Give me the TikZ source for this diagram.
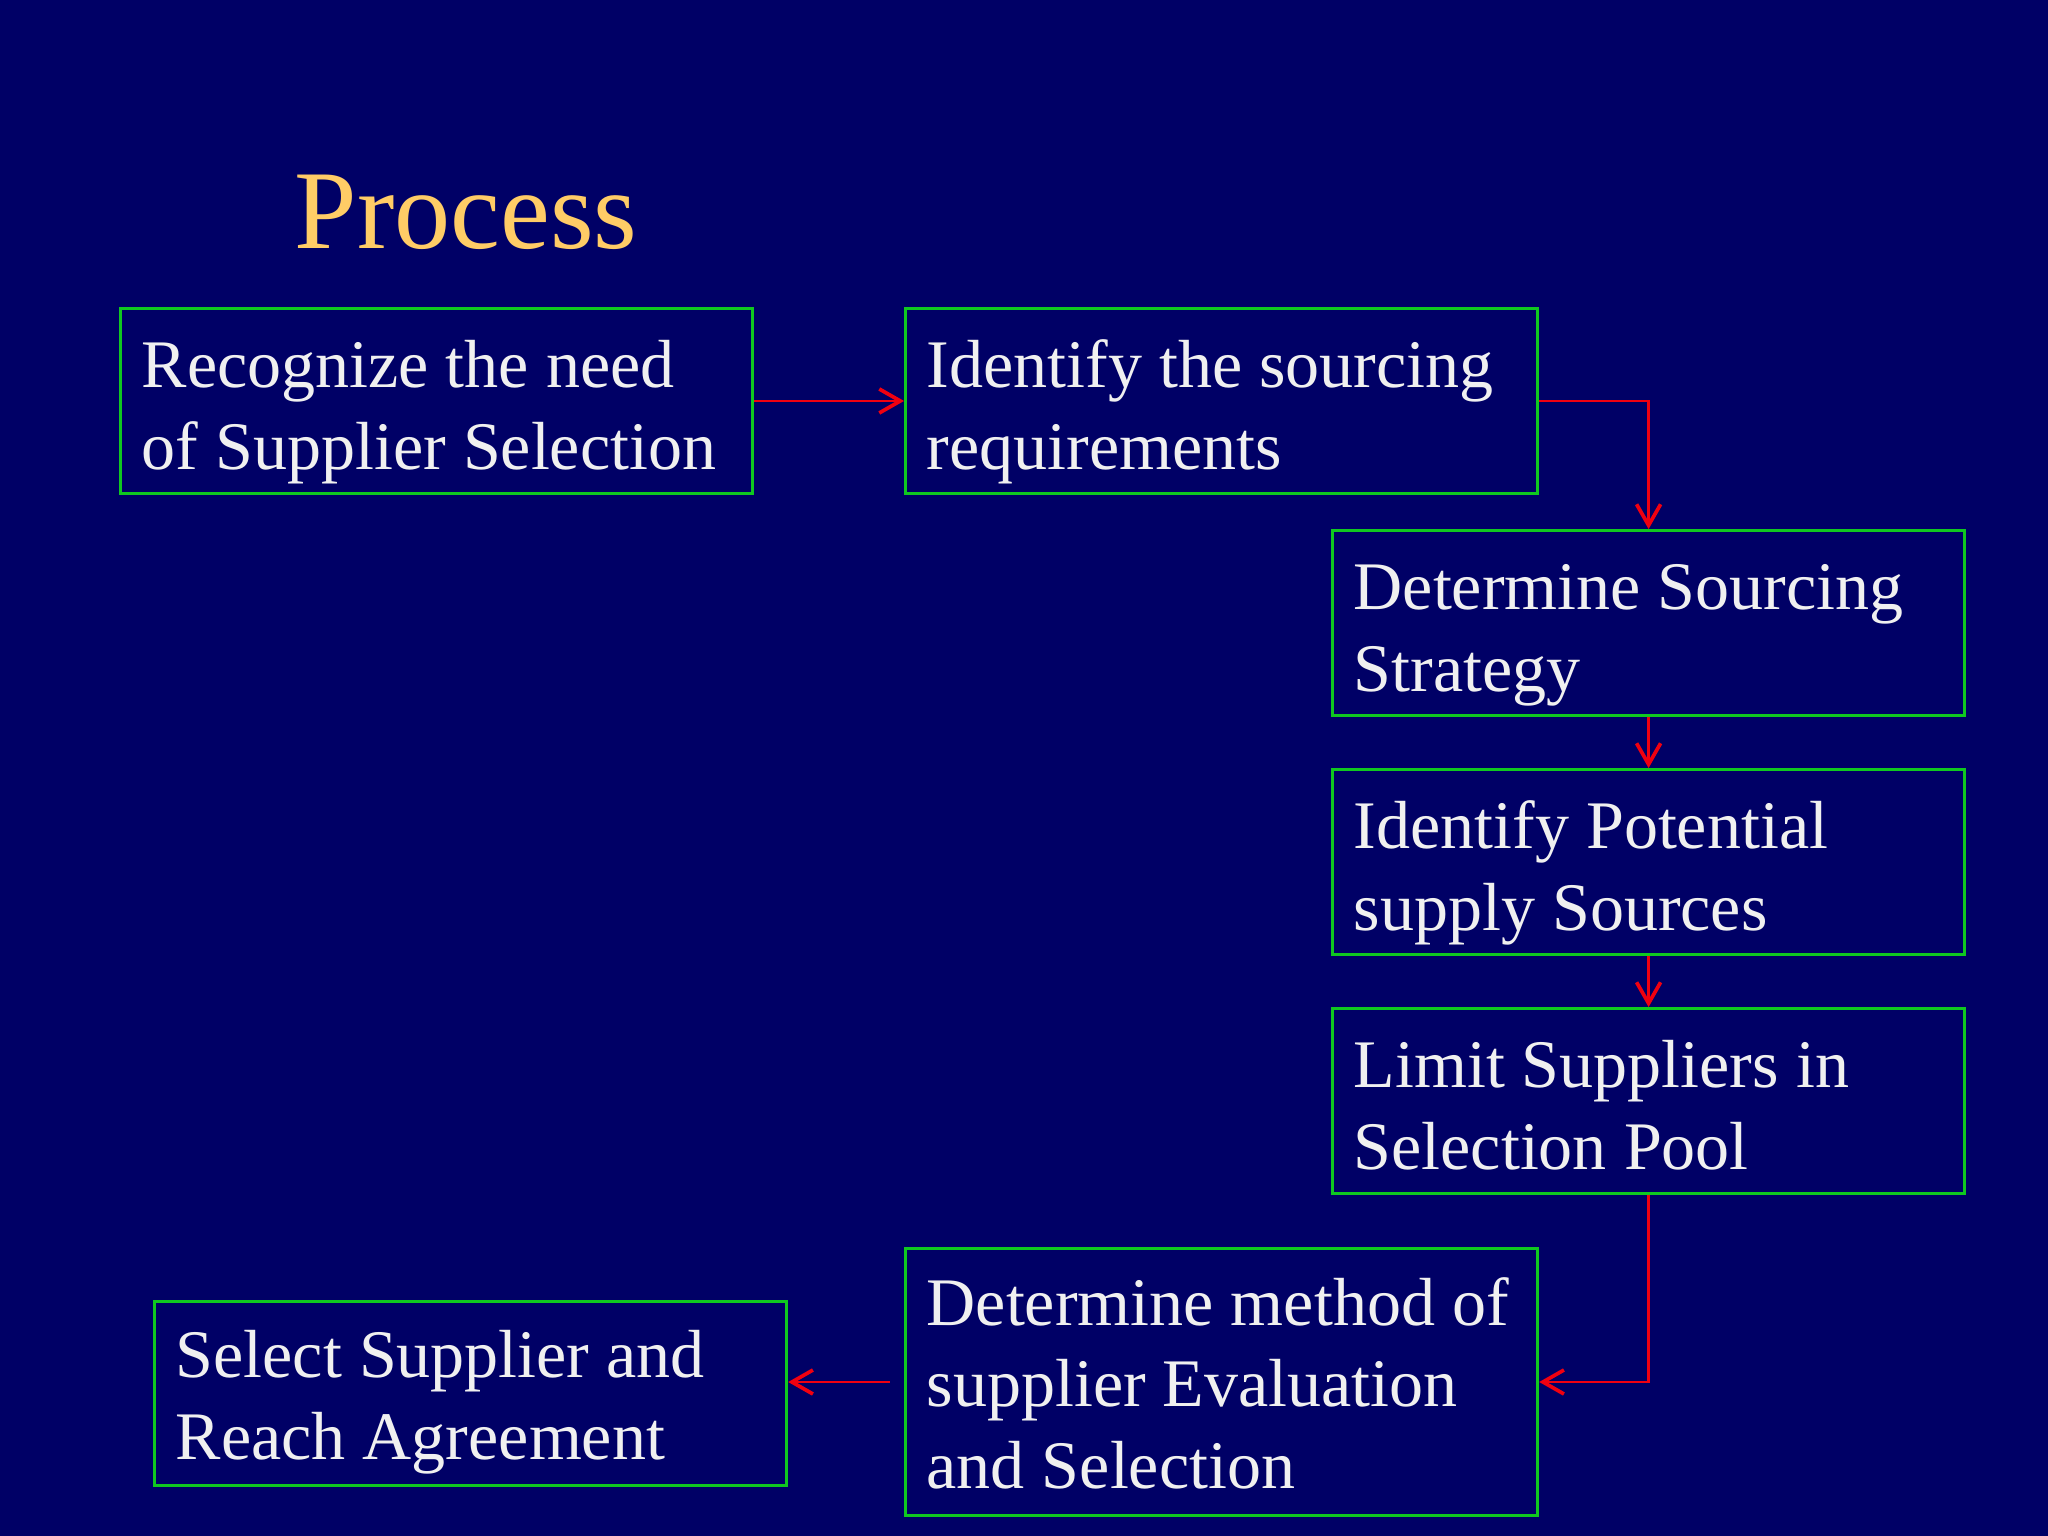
\documentclass[tikz,border=0pt]{standalone}
\usepackage{fontspec}
\setmainfont{Liberation Serif}
\usetikzlibrary{arrows.meta,calc}
\definecolor{bg}{HTML}{000066}
\definecolor{boxgreen}{HTML}{10C820}
\definecolor{arrowred}{HTML}{F00010}
\definecolor{txtwhite}{HTML}{F0F0F0}
\definecolor{titleorange}{HTML}{FFCC66}
\begin{document}
\begin{tikzpicture}[x=0.01cm,y=-0.01cm,
  box/.style={draw=boxgreen, line width=0.8pt, minimum width=6.32cm, minimum height=1.85cm, inner sep=0pt, anchor=north west},
  txt/.style={text=txtwhite, font=\fontsize{19.35}{23.05}\selectfont, align=left, anchor=base west, inner sep=0pt},
  conn/.style={draw=arrowred, line width=0.75pt, -{Straight Barb[length=0.21cm, width=0.24cm, line width=1.05pt]}},
  titletxt/.style={text=titleorange, font=\fontsize{31.9}{38}\selectfont, anchor=base, inner sep=0pt}]
\fill[bg] (0,0) rectangle (2048,1536);
\useasboundingbox (0,0) rectangle (2048,1536);
\node[titletxt] (title) at (466,248) {Process};
\node[box] (b1) at (119,307) {};
\node[box] (b2) at (904,307) {};
\node[box] (b3) at (1331,529) {};
\node[box] (b4) at (1331,768) {};
\node[box] (b5) at (1331,1007) {};
\node[box, minimum height=2.67cm] (b6) at (904,1247) {};
\node[box, minimum height=1.84cm] (b7) at (153,1300) {};
\node[txt] (t1) at ($(b1.north west)+(22,162)$) {Recognize the need\\of Supplier Selection};
\node[txt] (t2) at ($(b2.north west)+(22,162)$) {Identify the sourcing\\requirements};
\node[txt] (t3) at ($(b3.north west)+(22,162)$) {Determine Sourcing\\Strategy};
\node[txt] (t4) at ($(b4.north west)+(22,162)$) {Identify Potential\\supply Sources};
\node[txt] (t5) at ($(b5.north west)+(22,162)$) {Limit Suppliers in\\Selection Pool};
\node[txt] (t6) at ($(b6.north west)+(22,241)$) {Determine method of\\supplier Evaluation\\and Selection};
\node[txt] (t7) at ($(b7.north west)+(22,159)$) {Select Supplier and\\Reach Agreement};
\draw[conn] (b1.east) -- (b2.west);
\draw[conn] (b2.east) -| (b3.north);
\draw[conn] (b3.south) -- (b4.north);
\draw[conn] (b4.south) -- (b5.north);
\draw[conn] (b5.south) |- (b6.east);
\draw[conn, shorten <=4] (b6.west) -- (b6.west -| b7.east);
\end{tikzpicture}
\end{document}
